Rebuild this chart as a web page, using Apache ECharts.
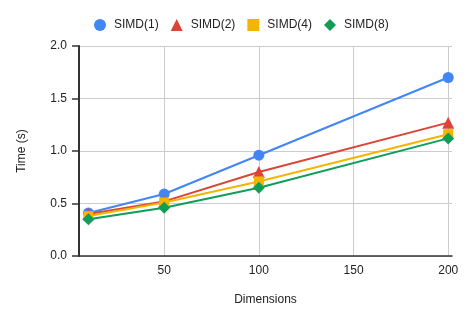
<!DOCTYPE html>
<html><head><meta charset="utf-8">
<script src="https://cdn.jsdelivr.net/npm/echarts@6/dist/echarts.min.js"></script>
<style>html,body{margin:0;padding:0;background:#fff}#c{width:474px;height:323px}</style>
</head><body><div id="c"></div>
<script>
const dims = [10, 50, 100, 200];
const simd1 = [0.41, 0.59, 0.96, 1.70];
const simd2 = [0.40, 0.52, 0.80, 1.27];
const simd4 = [0.38, 0.51, 0.71, 1.16];
const simd8 = [0.35, 0.46, 0.65, 1.12];
const names = ['SIMD(1)', 'SIMD(2)', 'SIMD(4)', 'SIMD(8)'];
const xTicks = [50, 100, 150, 200];

const colors = ['#4285F4', '#DB4437', '#F4B400', '#0F9D58'];
const symbols = ['circle', 'triangle', 'rect', 'diamond'];
const sizes = [11, 12, 10, 12];
const vals = [simd1, simd2, simd4, simd8];
const font = 'Liberation Sans, Arial, sans-serif';

const chart = echarts.init(document.getElementById('c'));
chart.setOption({
  animation: false,
  color: colors,
  legend: {
    top: 14, left: 89, itemGap: 12, itemWidth: 12, itemHeight: 12,
    textStyle: {fontFamily: font, fontSize: 12, color: '#222', padding: [0, 0, 0, 3]},
    data: names.map((n, i) => ({name: n, icon: symbols[i]}))
  },
  grid: {left: 79, right: 22, top: 46, bottom: 67},
  xAxis: {
    type: 'value', min: 5, max: 202,
    name: 'Dimensions', nameLocation: 'middle', nameGap: 38,
    nameTextStyle: {fontFamily: font, fontSize: 12, color: '#222'},
    axisLine: {show: true, lineStyle: {color: '#333', width: 1.5}},
    axisTick: {show: false, customValues: xTicks},
    axisLabel: {customValues: xTicks, fontFamily: font, fontSize: 12, color: '#222', margin: 9},
    splitLine: {show: true, lineStyle: {color: '#ccc', width: 1}}
  },
  yAxis: {
    type: 'value', min: 0, max: 2, interval: 0.5,
    name: 'Time (s)', nameLocation: 'middle', nameGap: 51,
    nameTextStyle: {fontFamily: font, fontSize: 12, color: '#222'},
    axisLine: {show: true, lineStyle: {color: '#333', width: 2}},
    axisTick: {show: true, length: 7, lineStyle: {color: '#333', width: 1.5}},
    axisLabel: {formatter: v => v.toFixed(1), fontFamily: font, fontSize: 12, color: '#222', margin: 12},
    splitLine: {show: true, lineStyle: {color: '#ccc', width: 1}}
  },
  series: names.map((n, i) => ({
    name: n, type: 'line',
    data: dims.map((d, j) => [d, vals[i][j]]),
    symbol: symbols[i], symbolSize: sizes[i], showAllSymbol: true,
    lineStyle: {width: 2, color: colors[i]},
    itemStyle: {color: colors[i]}
  }))
});
</script></body></html>
